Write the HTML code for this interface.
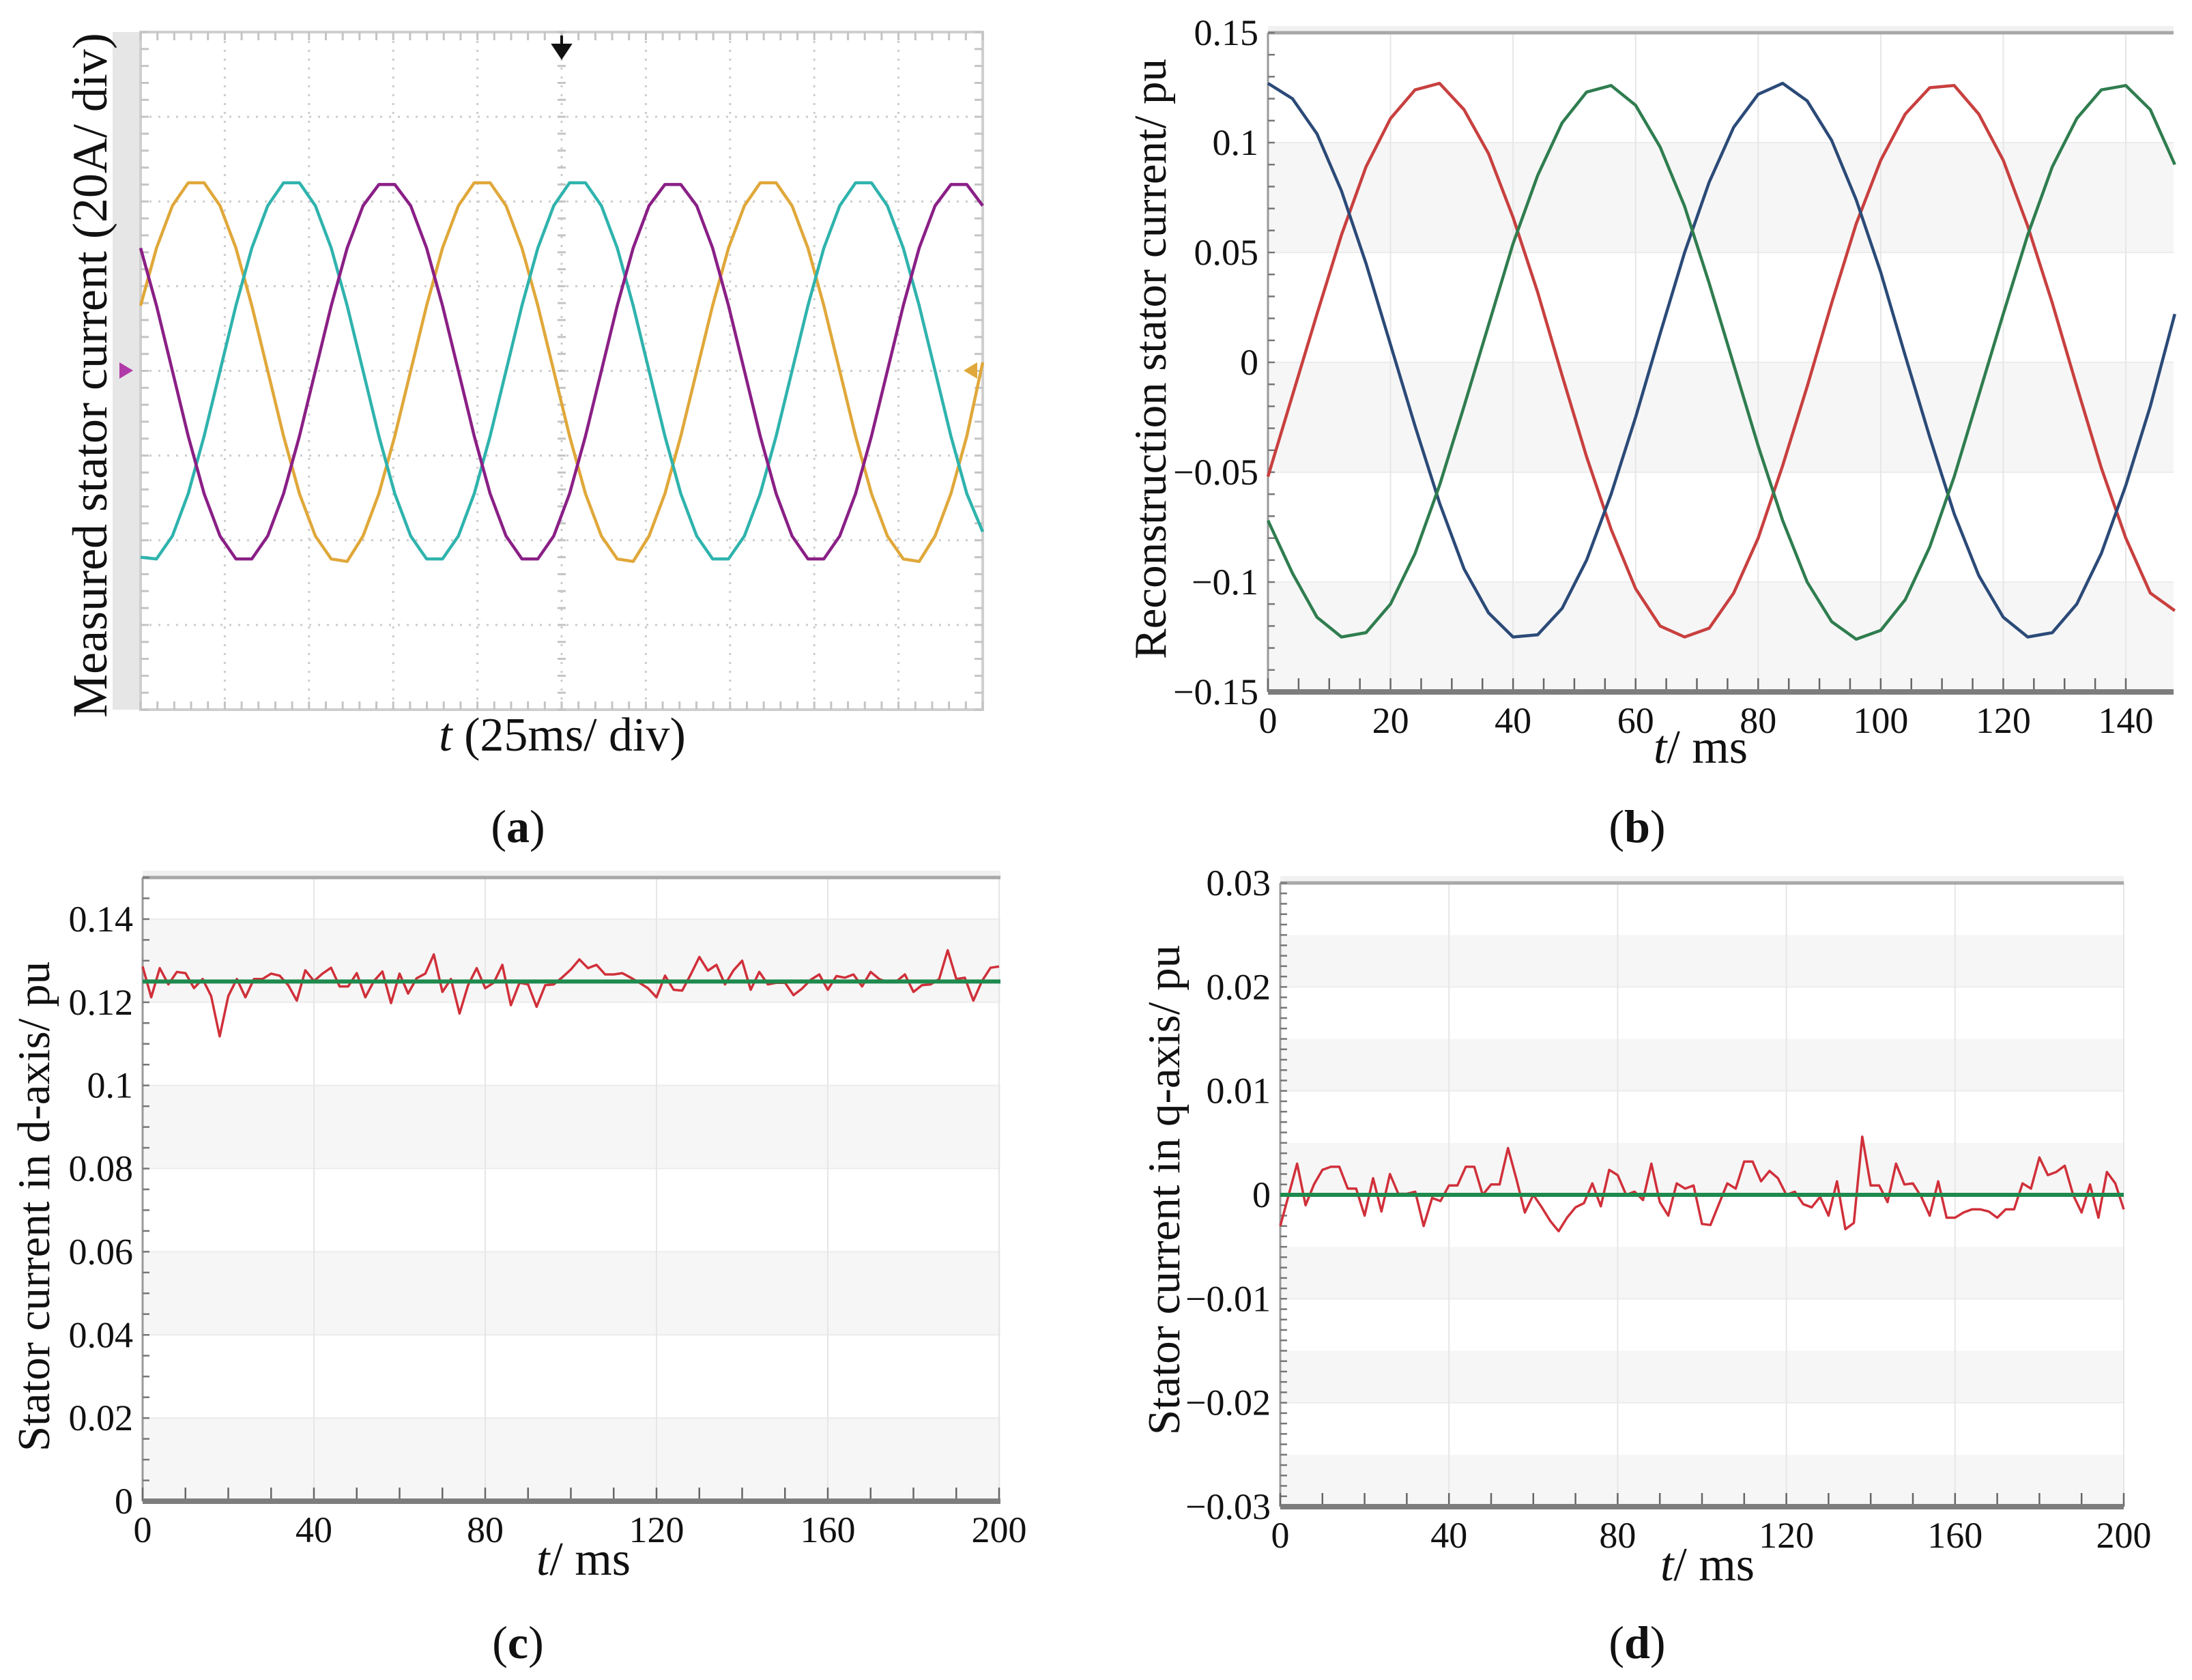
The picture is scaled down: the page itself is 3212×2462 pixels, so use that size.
<!DOCTYPE html>
<html><head><meta charset="utf-8">
<style>
html,body{margin:0;padding:0;background:#fff;}
svg{display:block;font-family:"Liberation Serif",serif;}
</style></head>
<body>
<svg id="fig" width="3212" height="2462" viewBox="0 0 3212 2462" xmlns="http://www.w3.org/2000/svg"></svg>
<script>
// ---------- Panel (a) data: oscilloscope, divisions vs ms ----------
const aDt = 250/53;
const aYellow = [0.77,1.45,1.95,2.22,2.22,1.95,1.45,0.77,0,-0.77,-1.45,-1.95,-2.22,-2.25,-1.95,-1.45,-0.77,0,0.77,1.45,1.95,2.22,2.22,1.95,1.45,0.77,0,-0.77,-1.45,-1.95,-2.22,-2.25,-1.95,-1.45,-0.77,0,0.77,1.45,1.95,2.22,2.22,1.95,1.45,0.77,0,-0.77,-1.45,-1.95,-2.22,-2.25,-1.95,-1.45,-0.77,0.1];
const aCyan = [-2.2,-2.22,-1.95,-1.45,-0.77,0,0.77,1.45,1.95,2.22,2.22,1.95,1.45,0.77,0,-0.77,-1.45,-1.95,-2.22,-2.22,-1.95,-1.45,-0.77,0,0.77,1.45,1.95,2.22,2.22,1.95,1.45,0.77,0,-0.77,-1.45,-1.95,-2.22,-2.22,-1.95,-1.45,-0.77,0,0.77,1.45,1.95,2.22,2.22,1.95,1.45,0.77,0,-0.77,-1.45,-1.9];
const aPurple = [1.45,0.77,0,-0.77,-1.45,-1.95,-2.22,-2.22,-1.95,-1.45,-0.77,0,0.77,1.45,1.95,2.2,2.2,1.95,1.45,0.77,0,-0.77,-1.45,-1.95,-2.22,-2.22,-1.95,-1.45,-0.77,0,0.77,1.45,1.95,2.2,2.2,1.95,1.45,0.77,0,-0.77,-1.45,-1.95,-2.22,-2.22,-1.95,-1.45,-0.77,0,0.77,1.45,1.95,2.2,2.2,1.95];

// ---------- Panel (b) data: 4 ms step ----------
const bDt = 4;
const bRed = [-0.052,-0.015,0.022,0.058,0.089,0.111,0.124,0.127,0.115,0.095,0.066,0.032,-0.006,-0.043,-0.076,-0.103,-0.120,-0.125,-0.121,-0.105,-0.080,-0.047,-0.011,0.027,0.063,0.092,0.113,0.125,0.126,0.113,0.092,0.062,0.027,-0.011,-0.048,-0.080,-0.105,-0.113];
const bBlue = [0.127,0.120,0.104,0.078,0.045,0.008,-0.029,-0.064,-0.094,-0.114,-0.125,-0.124,-0.112,-0.090,-0.060,-0.025,0.013,0.050,0.082,0.107,0.122,0.127,0.119,0.101,0.074,0.041,0.003,-0.034,-0.069,-0.097,-0.116,-0.125,-0.123,-0.110,-0.087,-0.056,-0.020,0.022];
const bGreen = [-0.072,-0.096,-0.116,-0.125,-0.123,-0.110,-0.087,-0.056,-0.020,0.017,0.054,0.085,0.109,0.123,0.126,0.117,0.098,0.071,0.036,-0.001,-0.038,-0.072,-0.100,-0.118,-0.126,-0.122,-0.108,-0.084,-0.052,-0.015,0.022,0.058,0.089,0.111,0.124,0.126,0.115,0.090];

// ---------- Panel (c) data: 2 ms step ----------
const cDt = 2;
const cRef = 0.125;
const cRed = [0.1286,0.1212,0.1282,0.1243,0.1273,0.1270,0.1234,0.1256,0.1215,0.1118,0.1215,0.1256,0.1212,0.1256,0.1256,0.1269,0.1264,0.1241,0.1204,0.1277,0.1251,0.1269,0.1283,0.1238,0.1238,0.1270,0.1212,0.1251,0.1274,0.1198,0.1269,0.1221,0.1258,0.1269,0.1315,0.1225,0.1256,0.1173,0.1241,0.1282,0.1234,0.1247,0.1290,0.1193,0.1247,0.1243,0.1189,0.1241,0.1243,0.1260,0.1279,0.1303,0.1282,0.1290,0.1267,0.1267,0.1270,0.1259,0.1247,0.1234,0.1212,0.1264,0.1230,0.1228,0.1267,0.1309,0.1276,0.1290,0.1243,0.1277,0.1300,0.1230,0.1273,0.1243,0.1247,0.1247,0.1217,0.1233,0.1254,0.1267,0.1230,0.1263,0.1259,0.1267,0.1238,0.1273,0.1256,0.1248,0.1250,0.1267,0.1225,0.1241,0.1243,0.1256,0.1325,0.1256,0.1259,0.1204,0.1251,0.1283,0.1286];

// ---------- Panel (d) data: 2 ms step ----------
const dDt = 2;
const dRef = 0;
const dRed = [-0.003,0,0.003,-0.001,0.001,0.0024,0.0027,0.0027,0.0006,0.0006,-0.002,0.0016,-0.0016,0.002,0.0001,0.0001,0.0003,-0.003,-0.0003,-0.0006,0.0009,0.0009,0.0027,0.0027,0,0.001,0.001,0.0045,0.0015,-0.0017,0,-0.0012,-0.0025,-0.0035,-0.0022,-0.0012,-0.0008,0.0011,-0.0011,0.0024,0.0019,0,0.0003,-0.0005,0.003,-0.0007,-0.002,0.0011,0.0006,0.0009,-0.0028,-0.0029,-0.0009,0.0011,0.0006,0.0032,0.0032,0.0013,0.0023,0.0016,0,0.0003,-0.0009,-0.0012,-0.0002,-0.002,0.0013,-0.0033,-0.0027,0.0056,0.0009,0.0009,-0.0007,0.003,0.001,0.0011,-0.0002,-0.002,0.0013,-0.0022,-0.0022,-0.0017,-0.0014,-0.0014,-0.0016,-0.0022,-0.0014,-0.0014,0.0011,0.0006,0.0036,0.0019,0.0022,0.0028,0,-0.0017,0.001,-0.0022,0.0022,0.0011,-0.0014];

const bTicksX = [0,20,40,60,80,100,120,140];
const bTicksY = [0.15,0.1,0.05,0,-0.05,-0.1,-0.15];
const bTickLabY = ["0.15","0.1","0.05","0","\u22120.05","\u22120.1","\u22120.15"];
const cTicksX = [0,40,80,120,160,200];
const cTicksY = [0,0.02,0.04,0.06,0.08,0.1,0.12,0.14];
const cTickLabY = ["0","0.02","0.04","0.06","0.08","0.1","0.12","0.14"];
const dTicksY = [0.03,0.02,0.01,0,-0.01,-0.02,-0.03];
const dTickLabY = ["0.03","0.02","0.01","0","\u22120.01","\u22120.02","\u22120.03"];

const NS = "http://www.w3.org/2000/svg";
const svg = document.getElementById('fig');
const TICKF = 54, TITLEF = 67;
function el(tag, attrs, parent){
  const e = document.createElementNS(NS, tag);
  for (const k in attrs) e.setAttribute(k, attrs[k]);
  (parent||svg).appendChild(e);
  return e;
}
function txt(str, x, y, size, anchor, parent, extra){
  const t = el('text', Object.assign({x:x, y:y, 'font-size':size, 'text-anchor':anchor||'middle', fill:'#111'}, extra||{}), parent);
  t.textContent = str;
  return t;
}
function linePath(vals, dt, sx, sy){
  let d = '';
  vals.forEach((v,i)=>{ d += (i?'L':'M') + sx(i*dt).toFixed(1) + ',' + sy(v).toFixed(1); });
  return d;
}

// ================= Panel (a) =================
(function(){
  const g = el('g', {});
  
  
  const L=206, R=1440, T=47, B=1040;
  const sx = t => L + (t/250)*(R-L);
  const sy = v => (T+B)/2 - v*(B-T)/8;
  const strip = el('rect', {x:165, y:T, width:L-165, height:B-T, fill:'#e6e6e6'}, g);
  
  
  el('rect', {x:L, y:T, width:R-L, height:B-T, fill:'#fff', stroke:'#cfcfcf', 'stroke-width':4}, g);
  for (let i=1;i<10;i++){
    const gl = el('line', {x1:sx(i*25), x2:sx(i*25), y1:T, y2:B, stroke:'#cccccc', 'stroke-width':3, 'stroke-dasharray':'3,10'}, g);
    
    
  }
  for (let j=1;j<8;j++){
    const y = T + j*(B-T)/8;
    const gl = el('line', {x1:L, x2:R, y1:y, y2:y, stroke:'#cccccc', 'stroke-width':3, 'stroke-dasharray':'3,10'}, g);
    
    
  }
  for (let k=0;k<=50;k++){
    const x = L + k*(R-L)/50;
    el('line', {x1:x, x2:x, y1:T, y2:T+12, stroke:'#c4c4c4', 'stroke-width':3}, g);
    el('line', {x1:x, x2:x, y1:B-12, y2:B, stroke:'#c4c4c4', 'stroke-width':3}, g);
  }
  for (let k=0;k<=40;k++){
    const y = T + k*(B-T)/40;
    el('line', {x1:L, x2:L+12, y1:y, y2:y, stroke:'#c4c4c4', 'stroke-width':3}, g);
    el('line', {x1:R-12, x2:R, y1:y, y2:y, stroke:'#c4c4c4', 'stroke-width':3}, g);
    el('line', {x1:sx(125)-6, x2:sx(125)+6, y1:y, y2:y, stroke:'#c4c4c4', 'stroke-width':3}, g);
  }
  const series = [[aYellow,'#e0a83a','trace-phase-a'],[aCyan,'#2fb3ad','trace-phase-b'],[aPurple,'#8a1f86','trace-phase-c']];
  series.forEach(s=>{
    const p = el('path', {d:linePath(s[0], aDt, sx, sy), fill:'none', stroke:s[1], 'stroke-width':4.5, 'stroke-linejoin':'round'}, g);
    
    
  });
  const trig = el('path', {d:'M'+(sx(125)-12)+','+66+' L'+(sx(125)+12)+','+66+' L'+sx(125)+','+84+' Z M'+sx(125)+',52 L'+sx(125)+',70', fill:'#111', stroke:'#111','stroke-width':4}, g);
  
  
  const m1 = el('path', {d:'M175,531 L195,543 L175,555 Z', fill:'#b03aa8'}, g);
  
  
  const m2 = el('path', {d:'M1432,531 L1412,543 L1432,555 Z', fill:'#e0a83a'}, g);
  
  
  const yt = txt('Measured stator current (20A/ div)', 0, 0, 72, 'middle', g, {transform:'translate(156,550) rotate(-90)'});
  
  
  const xt = el('text', {x:824, y:1100, 'font-size':70, 'text-anchor':'middle', fill:'#111'}, g);
  xt.innerHTML = '<tspan font-style="italic">t</tspan> (25ms/ div)';
  
  
  const cap = el('text', {x:759, y:1234, 'font-size':68, 'text-anchor':'middle', fill:'#111'}, g);
  cap.innerHTML = '(<tspan font-weight="bold">a</tspan>)';
  
  
})();

// ============ Generic software-plot panel ============
function softPanel(o){
  const g = el('g', {});
  
  
  const sx = t => o.L + (t - o.x0)/(o.x1 - o.x0)*(o.X1px - o.L);
  const sy = v => o.B - (v - o.y0)/(o.y1 - o.y0)*(o.B - o.T);
  el('rect', {x:o.L, y:o.T-10, width:o.R-o.L, height:10, fill:'#f1f1f1'}, g);
  o.bands.forEach(b=>{
    const r = el('rect', {x:o.L, y:sy(b[1]), width:o.R-o.L, height:sy(b[0])-sy(b[1]), fill:'#f6f6f6'}, g);
    
    
  });
  o.yTicks.forEach(v=>{
    el('line', {x1:o.L, x2:o.R, y1:sy(v), y2:sy(v), stroke:'#ececec', 'stroke-width':2}, g);
  });
  o.xTicks.forEach(t=>{
    if (t===o.x0) return;
    const gl = el('line', {x1:sx(t), x2:sx(t), y1:o.T, y2:o.B, stroke:'#e6e6e6', 'stroke-width':2}, g);
    
    
  });
  const top = el('line', {x1:o.L, x2:o.R, y1:o.T, y2:o.T, stroke:'#a8a8a8', 'stroke-width':5}, g);
  
  
  const yax = el('line', {x1:o.L, x2:o.L, y1:o.T, y2:o.B, stroke:'#9a9a9a', 'stroke-width':3}, g);
  
  
  for (let v=o.y0; v<=o.y1+1e-9; v+=o.yMinor){
    el('line', {x1:o.L, x2:o.L+10, y1:sy(v), y2:sy(v), stroke:'#777', 'stroke-width':2.5}, g);
  }
  for (let t=o.x0; t<=o.x1+1e-9; t+=o.xMinor){
    if (sx(t) > o.R) break;
    el('line', {x1:sx(t), x2:sx(t), y1:o.B-20, y2:o.B, stroke:'#666', 'stroke-width':2.5}, g);
  }
  const xax = el('line', {x1:o.L, x2:o.R, y1:o.B, y2:o.B, stroke:'#7d7d7d', 'stroke-width':8}, g);
  
  
  o.yTicks.forEach((v,i)=>{
    const t = txt(o.yLabels[i], o.L-14, sy(v)+18, TICKF, 'end', g);
    
    
  });
  o.xTicks.forEach(t=>{
    const tl = txt(String(t), sx(t), o.B+60, TICKF, 'middle', g);
    
    
  });
  o.series.forEach(s=>{
    const p = el('path', {d:linePath(s.vals, s.dt, sx, sy), fill:'none', stroke:s.color, 'stroke-width':s.w, 'stroke-linejoin':'round'}, g);
    
    
  });
  (o.refs||[]).forEach(r=>{
    const p = el('line', {x1:o.L, x2:o.R, y1:sy(r.v), y2:sy(r.v), stroke:r.color, 'stroke-width':6}, g);
    
    
  });
  const yt = txt(o.yTitle, 0, 0, TITLEF, 'middle', g, {transform:'translate('+o.yTitleX+','+o.yTitleY+') rotate(-90)'});
  
  
  const xt = el('text', {x:o.xTitleX, y:o.xTitleY, 'font-size':70, 'text-anchor':'middle', fill:'#111'}, g);
  xt.innerHTML = '<tspan font-style="italic">t</tspan>/ ms';
  
  
  const cap = el('text', {x:o.capX, y:o.capY, 'font-size':68, 'text-anchor':'middle', fill:'#111'}, g);
  cap.innerHTML = '(<tspan font-weight="bold">'+o.letter+'</tspan>)';
  
  
}

softPanel({name:'panel-b', letter:'b', L:1858, R:3185, X1px:3115, T:48, B:1014, x0:0, x1:140, y0:-0.15, y1:0.15,
  bands:[[0.05,0.1],[-0.05,0],[-0.15,-0.1]], xTicks:bTicksX, yTicks:bTicksY, yLabels:bTickLabY, yMinor:0.01, xMinor:5,
  series:[{vals:bRed,dt:bDt,color:'#c8403f',w:4.5,name:'series-phase-a'},{vals:bBlue,dt:bDt,color:'#2b4a78',w:4.5,name:'series-phase-b'},{vals:bGreen,dt:bDt,color:'#2f7d4f',w:4.5,name:'series-phase-c'}],
  yTitle:'Reconstruction stator current/ pu', yTitleX:1708, yTitleY:526, xTitleX:2492, xTitleY:1118, capX:2399, capY:1234});

softPanel({name:'panel-c', letter:'c', L:209, R:1466, X1px:1464, T:1286, B:2200, x0:0, x1:200, y0:0, y1:0.15,
  bands:[[0.12,0.14],[0.08,0.1],[0.04,0.06],[0,0.02]], xTicks:cTicksX, yTicks:cTicksY, yLabels:cTickLabY, yMinor:0.005, xMinor:10,
  series:[{vals:cRed,dt:cDt,color:'#d0303a',w:3.5,name:'series-id-measured'}],
  refs:[{v:cRef,color:'#1e8a4e',name:'series-id-reference'}],
  yTitle:'Stator current in d-axis/ pu', yTitleX:72, yTitleY:1768, xTitleX:855, xTitleY:2308, capX:759, capY:2430});

softPanel({name:'panel-d', letter:'d', L:1876, R:3112, X1px:3112, T:1294, B:2208, x0:0, x1:200, y0:-0.03, y1:0.03,
  bands:[[0.02,0.025],[0.01,0.015],[0,0.005],[-0.01,-0.005],[-0.02,-0.015],[-0.03,-0.025]], xTicks:cTicksX, yTicks:dTicksY, yLabels:dTickLabY, yMinor:0.001, xMinor:10,
  series:[{vals:dRed,dt:dDt,color:'#d0303a',w:3.5,name:'series-iq-measured'}],
  refs:[{v:dRef,color:'#1e8a4e',name:'series-iq-reference'}],
  yTitle:'Stator current in q-axis/ pu', yTitleX:1728, yTitleY:1744, xTitleX:2502, xTitleY:2316, capX:2399, capY:2430});
</script>
</body></html>
